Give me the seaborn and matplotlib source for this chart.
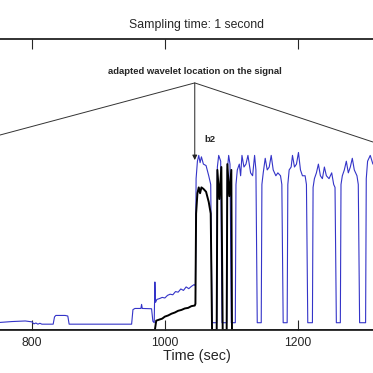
import matplotlib
matplotlib.use("Agg")
import matplotlib.pyplot as plt
import seaborn as sns

sns.set_style("white")
plt.rcParams['font.family'] = ['Liberation Sans', 'DejaVu Sans']

# blue signal (time in sec, level in % of axis height)
blue_t = [752, 770, 790, 800, 803, 806, 809, 812, 815, 832, 834, 836, 850, 854, 856,
          950, 952, 955, 964, 965, 966, 980, 982, 984, 985, 986, 988, 992, 996, 1000,
          1004, 1008, 1012, 1016, 1020, 1024, 1028, 1032, 1036, 1040, 1044, 1046,
          1047, 1049, 1051, 1053, 1055, 1058, 1062, 1066, 1069, 1071, 1078, 1079, 1081,
          1084, 1086, 1093, 1094, 1096, 1098, 1100, 1106, 1107, 1109, 1112, 1114, 1116,
          1119, 1122, 1125, 1129, 1132, 1135, 1137, 1139, 1145, 1146, 1148, 1151, 1154,
          1157, 1160, 1163, 1167, 1170, 1174, 1176, 1178, 1184, 1185, 1187, 1190, 1192,
          1195, 1198, 1201, 1204, 1207, 1211, 1213, 1215, 1222, 1223, 1225, 1228, 1231,
          1234, 1237, 1240, 1243, 1247, 1251, 1254, 1256, 1258, 1264, 1265, 1267, 1270,
          1273, 1276, 1279, 1282, 1285, 1289, 1291, 1293, 1302, 1303, 1305, 1309, 1313]
blue_v = [2.6, 2.9, 3.1, 2.8, 2.1, 2.4, 2.0, 2.3, 2.0, 2.0, 4.5, 5.0, 5.0, 4.8, 2.0,
          2.0, 7.0, 7.4, 7.4, 8.8, 7.4, 7.3, 3.0, 2.5, 16.5, 9.5, 10.5, 10.8, 11.2, 11.0,
          11.9, 12.3, 12.1, 13.2, 13.0, 14.1, 13.6, 14.8, 14.2, 15.0, 15.6, 15.2,
          52, 58, 60, 57.5, 59.5, 57, 56.5, 53, 50, 2.5, 2.5, 56, 60, 58, 2.5, 2.5,
          55, 60, 57, 2.5, 2.5, 50, 55, 57, 53, 60, 56, 57, 60, 54, 53, 60, 55, 2.5,
          2.5, 50, 54, 59, 55, 56, 60, 55, 53, 54, 53, 50, 2.5, 2.5, 50, 55, 56, 60,
          56, 57, 61, 55, 53, 53, 50, 2.5, 2.5, 49, 52, 54, 57, 53, 52, 56, 53, 52,
          54, 50, 49, 2.5, 2.5, 50, 53, 55, 58, 54, 56, 59, 55, 53, 50, 2.5, 2.5,
          52, 58, 60, 57]

# black signal
black_t = [752, 984, 985, 987, 992, 996, 1000, 1005, 1010, 1015, 1020, 1025, 1030,
           1035, 1040, 1045, 1046, 1047, 1049, 1051, 1053, 1055, 1058, 1062, 1066, 1069,
           1071, 1078, 1079, 1082, 1085, 1087, 1093, 1094, 1097, 1100, 1101, 1313]
black_v = [0, 0, 0, 3.2, 3.6, 3.9, 4.6, 5.0, 5.6, 6.0, 6.6, 6.9, 7.4,
           7.6, 8.2, 8.4, 9.0, 40, 47, 49, 47, 49, 48.5, 47.5, 44, 40,
           0, 0, 55, 45, 56, 0, 0, 57, 46, 55, 0, 0]

# annotation triangle
tri_t = [752, 1045, 1313]
tri_v = [67, 84.9, 64.6]
arrow_t = 1045
arrow_v = [84.9, 58.4]
xticks = [800, 1000, 1200]

fig = plt.figure(figsize=(3.73, 3.73), dpi=100)
ax = fig.add_axes([0, 0.1153, 1.055, 0.7802])

sns.lineplot(x=blue_t, y=blue_v, ax=ax, color='#3434c8', lw=0.8,
             estimator=None, sort=False)
sns.lineplot(x=black_t, y=black_v, ax=ax, color='black', lw=1.4,
             estimator=None, sort=False)
sns.lineplot(x=tri_t, y=tri_v, ax=ax, color='#333333', lw=0.7,
             estimator=None, sort=False)

ax.annotate('', xy=(arrow_t, arrow_v[1]), xytext=(arrow_t, arrow_v[0]),
            arrowprops=dict(arrowstyle='-|>', color='#222222', lw=0.7,
                            mutation_scale=7, shrinkA=0, shrinkB=0))
ax.text(1045, 88.8, 'adapted wavelet location on the signal', ha='center',
        va='center', fontsize=6.8, fontweight='bold')
ax.text(1059, 65.3, 'b2', ha='left', va='center', fontsize=6.8, fontweight='bold')

ax.set_xlim(752, 1344)
ax.set_ylim(0, 100)
ax.set_xticks(xticks)
ax.set_yticks([])
ax.tick_params(axis='x', direction='in', length=7, width=0.8, top=True,
               labelsize=8.8, pad=5, bottom=True)
ax.spines['left'].set_visible(False)
ax.spines['right'].set_visible(False)
for s in ('top', 'bottom'):
    ax.spines[s].set_linewidth(1.3)
    ax.spines[s].set_color('#222222')
ax.set_xlabel('Time (sec)', fontsize=10.4, labelpad=0)
ax.set_title('Sampling time: 1 second', fontsize=8.8, pad=8)

fig.savefig('out.png', dpi=100)
